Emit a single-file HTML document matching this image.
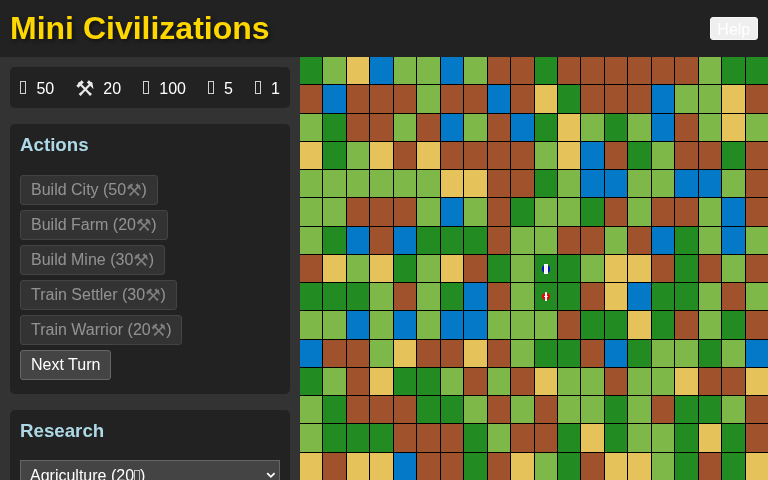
<!DOCTYPE html>
<html lang="en"><head><meta charset="utf-8"><title>Mini Civilizations</title>
<style>
*{box-sizing:border-box}
html,body{margin:0;padding:0}
body{width:768px;height:480px;overflow:hidden;background:#333;color:#fff;font-family:"Liberation Sans",sans-serif;font-size:16px;position:relative}
header{position:absolute;left:0;top:0;width:768px;height:57px;background:#222;display:flex;align-items:center;justify-content:space-between;padding:0 10px}
h1{margin:0;font-size:32px;font-weight:bold;color:#ffd700;text-shadow:2px 2px 4px rgba(0,0,0,.5);white-space:nowrap}
.help{width:48.4px;height:23.4px;background:#efefef;border:1.5px solid #f8f8f8;border-radius:3px;color:#fff;font:16px "Liberation Sans",sans-serif;padding:1px 0 0 0;margin:0.6px 0 0 0;text-align:center;line-height:19px}
aside{position:absolute;left:0;top:57px;width:300px;height:423px;padding:10px;overflow:hidden}
.panel{background:#222;border-radius:5px;padding:10px;margin-bottom:16px}
.res{position:relative;height:41.3px;white-space:nowrap}
.res span{position:absolute;top:11px;line-height:21px}
.res i.t{display:inline-block;width:6px;height:13px;border:1px solid #d0d0d0;margin:0 5.8px 0 0.2px;vertical-align:0}
.res .dj{opacity:.9;position:relative;top:1.5px;font-size:21.5px;line-height:0;margin-right:4.4px;margin-left:-0.6px}
.dj{font-family:"DejaVu Sans",sans-serif}
h3{margin:0 0 18.72px 0;font-size:18.72px;color:#add8e6;font-weight:bold}
.btn{display:block;font:16px "Liberation Sans",sans-serif;padding:0 10px;height:30px;border-radius:3px;margin:0 0 5px 0;white-space:nowrap;background:#444;border:1px solid #666;color:#fff}
.btn .dj{font-size:17.2px;line-height:0;position:relative;top:1.3px;opacity:.8}
.dis{opacity:.5}
.sel{position:relative;height:32px;margin-top:-1px;background:#444;border:1px solid #666;padding:6px 9px 5px;line-height:18px;white-space:nowrap}
.sel i.t{display:inline-block;width:6px;height:12px;border:1px solid #c4c4c4;margin:0 0.2px 0 -0.3px;vertical-align:-1px}
#map{position:absolute;left:300px;top:57px;width:468px;height:423px;display:grid;grid-template-columns:repeat(20,1fr);grid-template-rows:repeat(15,1fr);gap:1px;background:#000}
#map i{display:block;position:relative;min-width:0;min-height:0}
.f{background:#228b22}.g{background:#7eb848}.d{background:#e6c35a}.w{background:#0479c8}.m{background:#a0522d}
#map b{position:absolute;left:50%;top:50%;border-radius:50%}
.city{background:#0a0ad0;width:8.6px;height:7.8px;margin:-3.4px 0 0 -4px}
.unit{background:#e00808;width:8.4px;height:6.8px;margin:-3.4px 0 0 -3.9px}
.city u{position:absolute;left:2.4px;top:-1.2px;width:3.8px;height:10.2px;background:#f6eeff;border:1px solid #fff}
.unit u{position:absolute;left:3.1px;top:-1.3px;width:2.2px;height:9.2px;background:#fff;border-radius:1px 1px 0 0}
.unit u:after{content:"";position:absolute;left:-1.2px;top:3.6px;width:4.6px;height:1.5px;background:rgba(255,255,255,.8)}
</style></head><body>
<header><h1>Mini Civilizations</h1><button class="help">Help</button></header>
<aside>
<div class="panel res"><span style="left:10px"><i class="t"></i> 50</span><span style="left:65.75px"><span class="dj">⚒</span> 20</span><span style="left:132.9px"><i class="t"></i> 100</span><span style="left:197.6px"><i class="t"></i> 5</span><span style="left:244.6px"><i class="t"></i> 1</span></div>
<div class="panel" style="height:270.2px"><h3>Actions</h3>
<button class="btn dis">Build City (50<span class="dj">⚒</span>)</button>
<button class="btn dis">Build Farm (20<span class="dj">⚒</span>)</button>
<button class="btn dis">Build Mine (30<span class="dj">⚒</span>)</button>
<button class="btn dis">Train Settler (30<span class="dj">⚒</span>)</button>
<button class="btn dis">Train Warrior (20<span class="dj">⚒</span>)</button>
<button class="btn">Next Turn</button>
</div>
<div class="panel" style="height:200px"><h3>Research</h3>
<div class="sel">Agriculture (20<i class="t"></i>)<svg style="position:absolute;left:244px;top:9px" width="12" height="9" viewBox="0 0 12 9"><path d="M2.2 3.1L5.9 6.8L9.6 3.1" fill="none" stroke="#fff" stroke-width="1.8"/></svg></div>
</div>
</aside>
<div id="map">
<i class="f"></i><i class="g"></i><i class="d"></i><i class="w"></i><i class="g"></i><i class="g"></i><i class="w"></i><i class="g"></i><i class="m"></i><i class="m"></i><i class="f"></i><i class="m"></i><i class="m"></i><i class="m"></i><i class="m"></i><i class="m"></i><i class="m"></i><i class="g"></i><i class="f"></i><i class="f"></i>
<i class="m"></i><i class="w"></i><i class="m"></i><i class="m"></i><i class="m"></i><i class="g"></i><i class="m"></i><i class="m"></i><i class="w"></i><i class="m"></i><i class="d"></i><i class="f"></i><i class="m"></i><i class="m"></i><i class="m"></i><i class="w"></i><i class="g"></i><i class="g"></i><i class="d"></i><i class="m"></i>
<i class="g"></i><i class="f"></i><i class="m"></i><i class="m"></i><i class="g"></i><i class="m"></i><i class="w"></i><i class="g"></i><i class="m"></i><i class="w"></i><i class="f"></i><i class="d"></i><i class="g"></i><i class="f"></i><i class="g"></i><i class="w"></i><i class="m"></i><i class="g"></i><i class="d"></i><i class="g"></i>
<i class="d"></i><i class="f"></i><i class="g"></i><i class="d"></i><i class="m"></i><i class="d"></i><i class="m"></i><i class="m"></i><i class="m"></i><i class="m"></i><i class="g"></i><i class="d"></i><i class="w"></i><i class="m"></i><i class="f"></i><i class="g"></i><i class="m"></i><i class="m"></i><i class="f"></i><i class="m"></i>
<i class="g"></i><i class="g"></i><i class="g"></i><i class="g"></i><i class="g"></i><i class="g"></i><i class="d"></i><i class="d"></i><i class="m"></i><i class="m"></i><i class="f"></i><i class="g"></i><i class="w"></i><i class="w"></i><i class="g"></i><i class="g"></i><i class="w"></i><i class="w"></i><i class="g"></i><i class="m"></i>
<i class="g"></i><i class="g"></i><i class="m"></i><i class="m"></i><i class="m"></i><i class="g"></i><i class="w"></i><i class="g"></i><i class="m"></i><i class="f"></i><i class="g"></i><i class="g"></i><i class="f"></i><i class="m"></i><i class="g"></i><i class="m"></i><i class="m"></i><i class="g"></i><i class="w"></i><i class="m"></i>
<i class="g"></i><i class="f"></i><i class="w"></i><i class="m"></i><i class="w"></i><i class="f"></i><i class="f"></i><i class="f"></i><i class="m"></i><i class="g"></i><i class="g"></i><i class="m"></i><i class="m"></i><i class="g"></i><i class="m"></i><i class="w"></i><i class="f"></i><i class="g"></i><i class="w"></i><i class="g"></i>
<i class="m"></i><i class="d"></i><i class="g"></i><i class="d"></i><i class="f"></i><i class="g"></i><i class="d"></i><i class="m"></i><i class="f"></i><i class="g"></i><i class="f"><b class="city"><u></u></b></i><i class="f"></i><i class="g"></i><i class="d"></i><i class="d"></i><i class="m"></i><i class="f"></i><i class="m"></i><i class="g"></i><i class="m"></i>
<i class="f"></i><i class="f"></i><i class="f"></i><i class="g"></i><i class="m"></i><i class="g"></i><i class="f"></i><i class="w"></i><i class="m"></i><i class="g"></i><i class="f"><b class="unit"><u></u></b></i><i class="f"></i><i class="m"></i><i class="d"></i><i class="w"></i><i class="f"></i><i class="f"></i><i class="g"></i><i class="m"></i><i class="g"></i>
<i class="g"></i><i class="g"></i><i class="w"></i><i class="g"></i><i class="w"></i><i class="g"></i><i class="w"></i><i class="w"></i><i class="g"></i><i class="g"></i><i class="g"></i><i class="m"></i><i class="f"></i><i class="f"></i><i class="d"></i><i class="f"></i><i class="m"></i><i class="g"></i><i class="f"></i><i class="m"></i>
<i class="w"></i><i class="m"></i><i class="m"></i><i class="g"></i><i class="d"></i><i class="m"></i><i class="m"></i><i class="d"></i><i class="m"></i><i class="g"></i><i class="f"></i><i class="f"></i><i class="m"></i><i class="w"></i><i class="f"></i><i class="g"></i><i class="g"></i><i class="f"></i><i class="g"></i><i class="w"></i>
<i class="f"></i><i class="g"></i><i class="m"></i><i class="d"></i><i class="f"></i><i class="f"></i><i class="g"></i><i class="m"></i><i class="g"></i><i class="m"></i><i class="d"></i><i class="g"></i><i class="g"></i><i class="m"></i><i class="g"></i><i class="g"></i><i class="d"></i><i class="m"></i><i class="m"></i><i class="d"></i>
<i class="g"></i><i class="f"></i><i class="m"></i><i class="m"></i><i class="m"></i><i class="f"></i><i class="f"></i><i class="g"></i><i class="m"></i><i class="g"></i><i class="m"></i><i class="g"></i><i class="g"></i><i class="f"></i><i class="g"></i><i class="m"></i><i class="f"></i><i class="f"></i><i class="g"></i><i class="m"></i>
<i class="g"></i><i class="f"></i><i class="f"></i><i class="f"></i><i class="m"></i><i class="m"></i><i class="m"></i><i class="f"></i><i class="g"></i><i class="m"></i><i class="m"></i><i class="f"></i><i class="d"></i><i class="f"></i><i class="g"></i><i class="g"></i><i class="f"></i><i class="d"></i><i class="f"></i><i class="m"></i>
<i class="d"></i><i class="m"></i><i class="d"></i><i class="d"></i><i class="w"></i><i class="m"></i><i class="m"></i><i class="f"></i><i class="m"></i><i class="d"></i><i class="g"></i><i class="f"></i><i class="m"></i><i class="d"></i><i class="d"></i><i class="g"></i><i class="f"></i><i class="m"></i><i class="f"></i><i class="d"></i>
</div>
</body></html>
